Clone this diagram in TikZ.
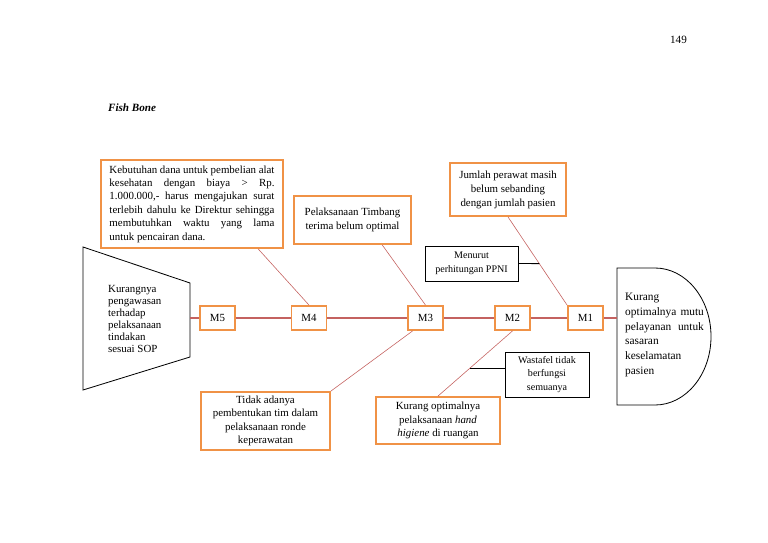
\documentclass[tikz,border=0pt]{standalone}
\usepackage{fontspec}
\setmainfont{Liberation Serif}
\usetikzlibrary{calc}
\definecolor{boxorange}{RGB}{240,146,70}
\definecolor{boneline}{RGB}{196,98,96}

\begin{document}
\begin{tikzpicture}[x=0.03cm,y=-0.03cm,
  cause/.style={draw=boxorange,line width=1.6pt,fill=white,inner sep=2pt,align=center,font=\fontsize{9.3}{11.4}\selectfont},
  note/.style={draw=black,line width=0.7pt,fill=white,align=center,font=\fontsize{8.6}{11.6}\selectfont},
  mbox/.style={cause,minimum width=1.05cm,minimum height=0.72cm,inner sep=0pt},
  bone/.style={boneline,line width=0.5pt}]
\pgfmathsetmacro{\spiney}{318};
\useasboundingbox (0,0) rectangle (768,543);

\node[anchor=east,font=\fontsize{9.5}{11}\selectfont] (hal) at (691,40) {149};
\node[anchor=west,font=\fontsize{9.5}{11}\selectfont\bfseries\itshape] (judul) at (104,108) {Fish Bone};

% tail and head
\draw[line width=0.7pt] (83,247) -- (190,283) -- (190,357) -- (83,390) -- cycle;
\coordinate (tailR) at (190,\spiney);
\node[anchor=west,align=left,font=\fontsize{9.3}{10.3}\selectfont] (tail) at (104,319)
  {Kurangnya\\ pengawasan\\ terhadap\\ pelaksanaan\\ tindakan\\ sesuai SOP};

\draw[line width=0.7pt] (617,268) -- (655,268) arc[start angle=-90,end angle=90,x radius=56,y radius=68.5] -- (617,405) -- cycle;
\coordinate (headL) at (617,\spiney);
\node[anchor=west,text width=2.36cm,align=justify,inner sep=0pt,font=\fontsize{9.7}{12.6}\selectfont] (head) at (625,335)
  {Kurang\\ optimalnya mutu\linebreak pelayanan untuk\linebreak sasaran\\ keselamatan\\ pasien};

% spine
\node[mbox] (m5) at (217.5,\spiney) {M5};
\node[mbox] (m4) at (309,\spiney) {M4};
\node[mbox] (m3) at (425.5,\spiney) {M3};
\node[mbox] (m2) at (512.5,\spiney) {M2};
\node[mbox] (m1) at (585.5,\spiney) {M1};
\draw[bone,line width=0.9pt] (tailR) -- (m5) -- (m4) -- (m3) -- (m2) -- (m1) -- (headL);

% causes
\node[cause,text width=4.95cm,align=justify,minimum width=5.46cm,minimum height=2.64cm] (dana) at (192,204)
  {Kebutuhan dana untuk pembelian alat\linebreak kesehatan dengan biaya > Rp.\linebreak 1.000.000,- harus mengajukan surat\linebreak terlebih dahulu ke Direktur sehingga\linebreak membutuhkan waktu yang lama\linebreak untuk pencairan dana.};
\node[cause,minimum width=3.51cm,minimum height=1.44cm] (timbang) at (352.5,220)
  {Pelaksanaan Timbang\\ terima belum optimal};
\node[cause,minimum width=3.48cm,minimum height=1.59cm,font=\fontsize{9.3}{11.9}\selectfont] (jumlah) at (508,189.5)
  {Jumlah perawat masih\\ belum sebanding\\ dengan jumlah pasien};
\node[cause,minimum width=3.87cm,minimum height=1.74cm] (tidak) at (265.5,421)
  {Tidak adanya\\ pembentukan tim dalam\\ pelaksanaan ronde\\ keperawatan};
\node[cause,minimum width=3.72cm,minimum height=1.41cm] (hand) at (438,420.5)
  {Kurang optimalnya\\ pelaksanaan \textit{hand}\\ \textit{higiene} di ruangan};

\node[note,minimum width=2.79cm,minimum height=1.05cm] (ppni) at (471.5,263.5)
  {Menurut\\ perhitungan PPNI};
\node[note,minimum width=2.52cm,minimum height=1.35cm] (wastafel) at (547,374.5)
  {Wastafel tidak\\ berfungsi\\ semuanya};

% bones
\draw[bone] ($(dana.south west)!0.86!(dana.south east)$) -- (m4.north);
\draw[bone] ($(timbang.south west)!0.75!(timbang.south east)$) -- (m3.north);
\draw[bone] (jumlah.south) -- (m1.north west);
\draw[bone] ($(m3.south west)!0.15!(m3.south east)$) -- (tidak.north east);
\draw[bone] (m2.south) -- (hand.north);

\path (jumlah.south) -- (m1.north west) coordinate[pos=0.53] (kppni);
\draw[line width=0.7pt] (ppni.east) -- (kppni);
\path (m2.south) -- (hand.north) coordinate[pos=0.57] (kwas);
\draw[line width=0.7pt] (kwas -| wastafel.west) -- (kwas);
\end{tikzpicture}
\end{document}
